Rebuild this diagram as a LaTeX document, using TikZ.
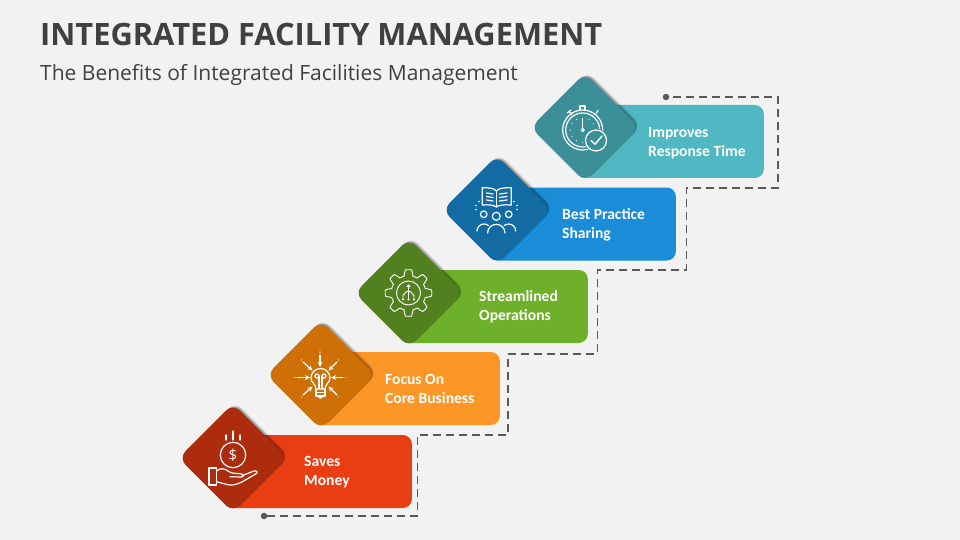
\documentclass[tikz,border=0pt]{standalone}
\usepackage{fontspec}
\setmainfont{Open Sans}
\newfontfamily\labelfont{Carlito}
\usetikzlibrary{shadows}
\definecolor{pagebg}{HTML}{F2F2F2}
\definecolor{headcol}{HTML}{404040}
\definecolor{stepline}{HTML}{595959}
\definecolor{redbar}{HTML}{E93D14}
\definecolor{reddark}{HTML}{AD2C0D}
\definecolor{orangebar}{HTML}{FC9626}
\definecolor{orangedark}{HTML}{CE7005}
\definecolor{greenbar}{HTML}{6FB02A}
\definecolor{greendark}{HTML}{53801F}
\definecolor{bluebar}{HTML}{1A8CD8}
\definecolor{bluedark}{HTML}{126BA3}
\definecolor{tealbar}{HTML}{4FB8C3}
\definecolor{tealdark}{HTML}{3A8F98}
\tikzset{
  barbox/.style={rectangle,rounded corners=9pt,minimum height=73pt,inner sep=0pt,anchor=east},
  diamondbox/.style={rectangle,rotate=45,rounded corners=10pt,minimum size=77pt,inner sep=0pt,
    general shadow={shadow xshift=2.3pt,shadow yshift=2pt,fill=black,opacity=.10},
    general shadow={shadow xshift=1.6pt,shadow yshift=1.4pt,fill=black,opacity=.14},
    general shadow={shadow xshift=.9pt,shadow yshift=.8pt,fill=black,opacity=.18}},
  barlabel/.style={anchor=west,align=left,text=white,inner sep=0pt,
    font=\labelfont\bfseries\fontsize{15.6}{19}\selectfont},
  stepdash/.style={stepline,line width=1.8pt,dash pattern=on 8pt off 5pt},
  stepdot/.style={circle,fill=stepline,inner sep=0pt,minimum size=6.5pt},
  iconline/.style={white,line width=1.2pt,line cap=round,line join=round}
}
\begin{document}
\begin{tikzpicture}[x=1pt,y=-1pt]
\useasboundingbox (0,0) rectangle (960,540);
\fill[pagebg] (0,0) rectangle (960,540);
\node[anchor=base west,inner sep=0pt,text=headcol,font=\bfseries\fontsize{30.8}{36}\selectfont] (title) at (40,46) {INTEGRATED FACILITY MANAGEMENT};
\node[anchor=base west,inner sep=0pt,text=headcol,font=\fontsize{21}{24}\selectfont] (subtitle) at (40,81) {The Benefits of Integrated Facilities Management};
% stair line
\node[stepdot] (linestart) at (264,516) {};
\node[stepdot] (lineend) at (666,97) {};
\coordinate (s1) at (417.5,516);
\coordinate (s2) at (417.5,435);
\coordinate (s3) at (508,435);
\coordinate (s4) at (508,354);
\coordinate (s5) at (597.5,354);
\coordinate (s6) at (597.5,270);
\coordinate (s7) at (686.5,270);
\coordinate (s8) at (686.5,188);
\coordinate (s9) at (778,188);
\coordinate (s10) at (778,97);
\draw[stepdash] (linestart) -- (s1) -- (s2) -- (s3) -- (s4) -- (s5) -- (s6) -- (s7) -- (s8) -- (s9) -- (s10) -- (lineend);
% bars
\node[barbox,fill=redbar,minimum width=188pt] (moneybar) at (412,471.5) {};
\node[barbox,fill=orangebar,minimum width=188pt] (focusbar) at (500,388.5) {};
\node[barbox,fill=greenbar,minimum width=188pt] (opsbar) at (588,306.5) {};
\node[barbox,fill=bluebar,minimum width=188pt] (sharebar) at (676,224) {};
\node[barbox,fill=tealbar,minimum width=188pt] (timebar) at (764,141.5) {};
% diamonds
\node[diamondbox,fill=reddark] (moneytile) at (233,458) {};
\node[diamondbox,fill=orangedark] (focustile) at (321,375) {};
\node[diamondbox,fill=greendark] (opstile) at (409,293) {};
\node[diamondbox,fill=bluedark] (sharetile) at (497,210) {};
\node[diamondbox,fill=tealdark] (timetile) at (585,127.5) {};
% labels
\node[barlabel] (moneytext) at (304,472.5) {Saves\\Money};
\node[barlabel] (focustext) at (385,388.8) {Focus On\\Core Business};
\node[barlabel] (opstext) at (479,307) {Streamlined\\Operations};
\node[barlabel] (sharetext) at (562,224.5) {Best Practice\\Sharing};
\node[barlabel] (timetext) at (648,143) {Improves\\Response Time};
% money icon
\begin{scope}[shift={(233,458)},iconline]
\draw (0,-3) circle [radius=12.7];
\node[text=white,inner sep=0pt,font=\fontsize{15}{15}\selectfont] (dollar) at (0,-3) {\$};
\draw (-7,-23) -- (-7,-18);
\draw (0,-27) -- (0,-18);
\draw (7,-23) -- (7,-18);
\draw (-24,10) rectangle (-16.3,27);
\draw (-16.3,13) .. controls (-13,10) and (-9,10) .. (-5,13) .. controls (-2,16) and (4,15) .. (8.7,16) .. controls (11,16.5) and (11,19) .. (8,19) -- (-3,18.7);
\draw (9.5,17.5) -- (21,13) .. controls (24,12.5) and (25,14.5) .. (23.7,15.3) -- (9,24) .. controls (3,27) and (-3,28) .. (-8,26) -- (-16.3,23.7);
\end{scope}
% bulb icon
\begin{scope}[shift={(321,375)},iconline]
\draw (-5,14) .. controls (-5,9) and (-10,8) .. (-10,3) arc (180:360:9.5) .. controls (9,8) and (4,9) .. (4,14) -- cycle;
\draw (-5,17.5) -- (4,17.5);
\draw (-5,14) -- (-5,21) -- (4,21) -- (4,14);
\draw (-2.5,21) arc (180:0:2);
\draw (-2,13.5) -- (-2,1);
\draw (1,13.5) -- (1,1);
\draw (-4,1) circle [radius=2];
\draw (3,1) circle [radius=2];
\draw[<-,>=stealth] (-1,-8) -- (-1,-20);
\draw[<-,>=stealth] (-11,2.5) -- (-24,2.5);
\draw[<-,>=stealth] (10,2.5) -- (22,2.5);
\draw[<-,>=stealth] (-8.5,-4.5) -- (-18,-13);
\draw[<-,>=stealth] (7.5,-4.5) -- (16,-13);
\draw[<-,>=stealth] (-8.5,11.5) -- (-18,20);
\draw[<-,>=stealth] (7.5,11.5) -- (16,20);
\fill[white] (-1,-22.5) circle [radius=.7];
\fill[white] (-1,-25) circle [radius=.7];
\fill[white] (-26,2.5) circle [radius=.7];
\fill[white] (24.5,2.5) circle [radius=.7];
\fill[white] (-19.5,-15) circle [radius=.7];
\fill[white] (17.5,-15) circle [radius=.7];
\fill[white] (-19.5,22) circle [radius=.7];
\fill[white] (17.5,22) circle [radius=.7];
\end{scope}
% gear icon
\begin{scope}[shift={(408.5,293)},iconline,line width=.9pt]
\draw plot[domain=0:360,samples=193,smooth] (\x:{20.3+3*max(min(2*cos(8*\x),1),-1)}) -- cycle;
\draw (0,0) circle [radius=12];
\draw (0,-8) -- (0,6);
\draw (-5.5,6) -- (-5.5,2.5) -- (-2.5,-1) -- (0,-2) -- (2.5,-1) -- (5.5,2.5) -- (5.5,6);
\draw (-1.8,-6.2) -- (0,-8) -- (1.8,-6.2);
\fill[white] (-5.5,6.5) circle [radius=1.1];
\fill[white] (0,6.5) circle [radius=1.1];
\fill[white] (5.5,6.5) circle [radius=1.1];
\end{scope}
% book and people icon
\begin{scope}[shift={(497,210)},iconline]
\draw (-14.7,-22.3) -- (-14.7,-5) .. controls (-8,-5.5) and (-3,-5) .. (-0.7,-3) .. controls (2,-5) and (7,-5.5) .. (14.3,-5) -- (14.3,-22.3) .. controls (7,-22.3) and (2,-22) .. (-0.7,-19) .. controls (-3,-22) and (-8,-22.3) .. (-14.7,-22.3) -- cycle;
\draw (-0.7,-19) -- (-0.7,-3);
\draw (-10.5,-17) -- (-4,-16);
\draw (-10.5,-13.5) -- (-4,-12.5);
\draw (-10.5,-10) -- (-4,-9);
\draw (10,-17) -- (2.5,-16);
\draw (10,-13.5) -- (2.5,-12.5);
\draw (10,-10) -- (2.5,-9);
\fill[white] (-18,-8.5) circle [radius=.8];
\fill[white] (-21,-4.5) circle [radius=.8];
\fill[white] (-21,-0.5) circle [radius=.8];
\fill[white] (17,-8.5) circle [radius=.8];
\fill[white] (20,-4.5) circle [radius=.8];
\fill[white] (20,-0.5) circle [radius=.8];
\draw (-13.3,4.3) circle [radius=3.3];
\draw (-0.7,6.3) circle [radius=4];
\draw (11.7,4.3) circle [radius=3.3];
\draw (-20,21) arc (180:310:7);
\draw (-9.4,23) arc (180:360:8.7);
\draw (18.7,21) arc (0:-130:7);
\end{scope}
% stopwatch icon
\begin{scope}[shift={(585,127.5)},iconline]
\draw (-2.3,2.5) circle [radius=20];
\draw (-2.3,2.5) circle [radius=17];
\draw (-2.3,-9) -- (-2.3,1);
\draw (-2.3,2.5) circle [radius=1.6];
\draw (-5,-17.5) -- (-5,-21.5) -- (0,-21.5) -- (0,-17.5);
\draw (-16,-16) -- (-13,-13);
\draw (-18,-14.5) -- (-14,-17.5);
\draw (11,-14) -- (13,-17);
\fill[white] (-14.6,2.5) circle [radius=.6];
\fill[white] (10,2.5) circle [radius=.6];
\fill[white] (-2.3,14.8) circle [radius=.6];
\fill[white] (-8.5,-8.2) circle [radius=.6];
\fill[white] (3.9,-8.2) circle [radius=.6];
\fill[white] (-13,-3.7) circle [radius=.6];
\fill[white] (8.4,-3.7) circle [radius=.6];
\fill[white] (-13,8.7) circle [radius=.6];
\fill[white] (-8.5,13.2) circle [radius=.6];
\fill[white] (3.9,13.2) circle [radius=.6];
\draw[fill=tealdark,draw=tealdark,line width=3pt] (11,13) circle [radius=10.5];
\draw (11,13) circle [radius=10.5];
\draw[line width=1.4pt] (6,13) -- (10,16.7) -- (17,8.5);
\end{scope}
\end{tikzpicture}
\end{document}
